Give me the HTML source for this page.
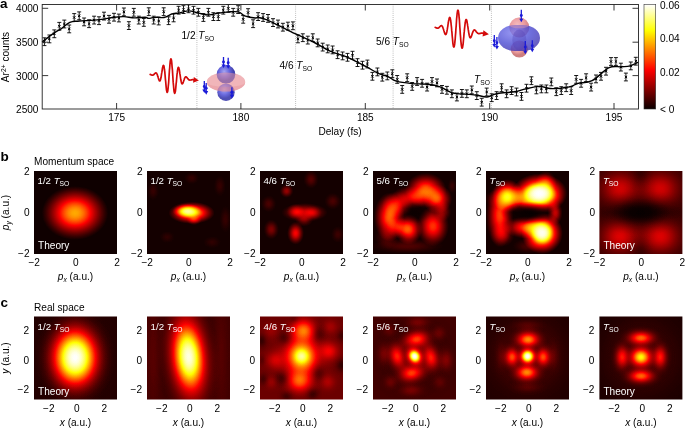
<!DOCTYPE html>
<html><head><meta charset="utf-8"><title>Figure</title>
<style>html,body{margin:0;padding:0;background:#fff}svg{display:block}text{font-family:"Liberation Sans",Arial,Helvetica,sans-serif;font-size:10.1px;fill:#000}.w{fill:#fff}.i{font-style:italic}.b{font-weight:bold;font-size:13.5px;fill:#000}.sub{font-size:6.7px}.in{font-size:9.7px}</style></head><body>
<svg width="685" height="428" viewBox="0 0 685 428">
<defs>
<filter id="hot" x="0" y="0" width="100%" height="100%" color-interpolation-filters="sRGB"><feComponentTransfer><feFuncR type="table" tableValues="0.03 0.36 0.68 1 1 1 1 1 1"/><feFuncG type="table" tableValues="0 0 0 0 0.333 0.667 1 1 1"/><feFuncB type="table" tableValues="0 0 0 0 0 0 0 0.5 1"/></feComponentTransfer></filter>
<radialGradient id="gp"><stop offset="0.00" stop-color="#fff" stop-opacity="1.000"/><stop offset="0.05" stop-color="#fff" stop-opacity="0.996"/><stop offset="0.10" stop-color="#fff" stop-opacity="0.983"/><stop offset="0.15" stop-color="#fff" stop-opacity="0.963"/><stop offset="0.20" stop-color="#fff" stop-opacity="0.935"/><stop offset="0.25" stop-color="#fff" stop-opacity="0.899"/><stop offset="0.30" stop-color="#fff" stop-opacity="0.857"/><stop offset="0.35" stop-color="#fff" stop-opacity="0.809"/><stop offset="0.40" stop-color="#fff" stop-opacity="0.756"/><stop offset="0.45" stop-color="#fff" stop-opacity="0.698"/><stop offset="0.50" stop-color="#fff" stop-opacity="0.637"/><stop offset="0.55" stop-color="#fff" stop-opacity="0.573"/><stop offset="0.60" stop-color="#fff" stop-opacity="0.507"/><stop offset="0.65" stop-color="#fff" stop-opacity="0.440"/><stop offset="0.70" stop-color="#fff" stop-opacity="0.373"/><stop offset="0.75" stop-color="#fff" stop-opacity="0.306"/><stop offset="0.80" stop-color="#fff" stop-opacity="0.240"/><stop offset="0.85" stop-color="#fff" stop-opacity="0.176"/><stop offset="0.90" stop-color="#fff" stop-opacity="0.115"/><stop offset="0.95" stop-color="#fff" stop-opacity="0.056"/><stop offset="1.00" stop-color="#fff" stop-opacity="0.000"/></radialGradient>
<radialGradient id="gq"><stop offset="0.00" stop-color="#fff" stop-opacity="1.000"/><stop offset="0.05" stop-color="#fff" stop-opacity="0.994"/><stop offset="0.10" stop-color="#fff" stop-opacity="0.977"/><stop offset="0.15" stop-color="#fff" stop-opacity="0.949"/><stop offset="0.20" stop-color="#fff" stop-opacity="0.911"/><stop offset="0.25" stop-color="#fff" stop-opacity="0.864"/><stop offset="0.30" stop-color="#fff" stop-opacity="0.809"/><stop offset="0.35" stop-color="#fff" stop-opacity="0.749"/><stop offset="0.40" stop-color="#fff" stop-opacity="0.683"/><stop offset="0.45" stop-color="#fff" stop-opacity="0.615"/><stop offset="0.50" stop-color="#fff" stop-opacity="0.545"/><stop offset="0.55" stop-color="#fff" stop-opacity="0.475"/><stop offset="0.60" stop-color="#fff" stop-opacity="0.406"/><stop offset="0.65" stop-color="#fff" stop-opacity="0.340"/><stop offset="0.70" stop-color="#fff" stop-opacity="0.278"/><stop offset="0.75" stop-color="#fff" stop-opacity="0.219"/><stop offset="0.80" stop-color="#fff" stop-opacity="0.165"/><stop offset="0.85" stop-color="#fff" stop-opacity="0.116"/><stop offset="0.90" stop-color="#fff" stop-opacity="0.072"/><stop offset="0.95" stop-color="#fff" stop-opacity="0.034"/><stop offset="1.00" stop-color="#fff" stop-opacity="0.000"/></radialGradient>
<radialGradient id="gqk"><stop offset="0.00" stop-color="#000" stop-opacity="1.000"/><stop offset="0.05" stop-color="#000" stop-opacity="0.994"/><stop offset="0.10" stop-color="#000" stop-opacity="0.977"/><stop offset="0.15" stop-color="#000" stop-opacity="0.949"/><stop offset="0.20" stop-color="#000" stop-opacity="0.911"/><stop offset="0.25" stop-color="#000" stop-opacity="0.864"/><stop offset="0.30" stop-color="#000" stop-opacity="0.809"/><stop offset="0.35" stop-color="#000" stop-opacity="0.749"/><stop offset="0.40" stop-color="#000" stop-opacity="0.683"/><stop offset="0.45" stop-color="#000" stop-opacity="0.615"/><stop offset="0.50" stop-color="#000" stop-opacity="0.545"/><stop offset="0.55" stop-color="#000" stop-opacity="0.475"/><stop offset="0.60" stop-color="#000" stop-opacity="0.406"/><stop offset="0.65" stop-color="#000" stop-opacity="0.340"/><stop offset="0.70" stop-color="#000" stop-opacity="0.278"/><stop offset="0.75" stop-color="#000" stop-opacity="0.219"/><stop offset="0.80" stop-color="#000" stop-opacity="0.165"/><stop offset="0.85" stop-color="#000" stop-opacity="0.116"/><stop offset="0.90" stop-color="#000" stop-opacity="0.072"/><stop offset="0.95" stop-color="#000" stop-opacity="0.034"/><stop offset="1.00" stop-color="#000" stop-opacity="0.000"/></radialGradient>
<radialGradient id="gw"><stop offset="0.00" stop-color="#fff" stop-opacity="1.000"/><stop offset="0.05" stop-color="#fff" stop-opacity="0.989"/><stop offset="0.10" stop-color="#fff" stop-opacity="0.956"/><stop offset="0.15" stop-color="#fff" stop-opacity="0.903"/><stop offset="0.20" stop-color="#fff" stop-opacity="0.833"/><stop offset="0.25" stop-color="#fff" stop-opacity="0.752"/><stop offset="0.30" stop-color="#fff" stop-opacity="0.663"/><stop offset="0.35" stop-color="#fff" stop-opacity="0.571"/><stop offset="0.40" stop-color="#fff" stop-opacity="0.481"/><stop offset="0.45" stop-color="#fff" stop-opacity="0.395"/><stop offset="0.50" stop-color="#fff" stop-opacity="0.317"/><stop offset="0.55" stop-color="#fff" stop-opacity="0.248"/><stop offset="0.60" stop-color="#fff" stop-opacity="0.189"/><stop offset="0.65" stop-color="#fff" stop-opacity="0.140"/><stop offset="0.70" stop-color="#fff" stop-opacity="0.100"/><stop offset="0.75" stop-color="#fff" stop-opacity="0.069"/><stop offset="0.80" stop-color="#fff" stop-opacity="0.046"/><stop offset="0.85" stop-color="#fff" stop-opacity="0.028"/><stop offset="0.90" stop-color="#fff" stop-opacity="0.015"/><stop offset="0.95" stop-color="#fff" stop-opacity="0.006"/><stop offset="1.00" stop-color="#fff" stop-opacity="0.000"/></radialGradient>
<radialGradient id="gk"><stop offset="0.00" stop-color="#000" stop-opacity="1.000"/><stop offset="0.05" stop-color="#000" stop-opacity="0.989"/><stop offset="0.10" stop-color="#000" stop-opacity="0.956"/><stop offset="0.15" stop-color="#000" stop-opacity="0.903"/><stop offset="0.20" stop-color="#000" stop-opacity="0.833"/><stop offset="0.25" stop-color="#000" stop-opacity="0.752"/><stop offset="0.30" stop-color="#000" stop-opacity="0.663"/><stop offset="0.35" stop-color="#000" stop-opacity="0.571"/><stop offset="0.40" stop-color="#000" stop-opacity="0.481"/><stop offset="0.45" stop-color="#000" stop-opacity="0.395"/><stop offset="0.50" stop-color="#000" stop-opacity="0.317"/><stop offset="0.55" stop-color="#000" stop-opacity="0.248"/><stop offset="0.60" stop-color="#000" stop-opacity="0.189"/><stop offset="0.65" stop-color="#000" stop-opacity="0.140"/><stop offset="0.70" stop-color="#000" stop-opacity="0.100"/><stop offset="0.75" stop-color="#000" stop-opacity="0.069"/><stop offset="0.80" stop-color="#000" stop-opacity="0.046"/><stop offset="0.85" stop-color="#000" stop-opacity="0.028"/><stop offset="0.90" stop-color="#000" stop-opacity="0.015"/><stop offset="0.95" stop-color="#000" stop-opacity="0.006"/><stop offset="1.00" stop-color="#000" stop-opacity="0.000"/></radialGradient>
<linearGradient id="cb" x1="0" y1="1" x2="0" y2="0"><stop offset="0" stop-color="#0a0000"/><stop offset="0.375" stop-color="#ff0000"/><stop offset="0.75" stop-color="#ffff00"/><stop offset="1" stop-color="#ffffff"/></linearGradient>
<radialGradient id="sb" cx="0.4" cy="0.35"><stop offset="0" stop-color="#9a9af0"/><stop offset="0.6" stop-color="#5050d8"/><stop offset="1" stop-color="#3030a8"/></radialGradient>
<radialGradient id="sp" cx="0.4" cy="0.35"><stop offset="0" stop-color="#f8c8c8"/><stop offset="0.7" stop-color="#e89090"/><stop offset="1" stop-color="#c87070"/></radialGradient>
<radialGradient id="tb" cx="0.35" cy="0.3" r="0.8"><stop offset="0" stop-color="#7c7cee"/><stop offset="0.55" stop-color="#4a4ad2"/><stop offset="1" stop-color="#4030a8"/></radialGradient>
</defs>
<g id="panelA">
<text class="b" x="0" y="7.5">a</text>
<line x1="196.9" y1="4.5" x2="196.9" y2="109.0" stroke="#666" stroke-width="0.6" stroke-dasharray="0.7 1.4"/>
<line x1="295.6" y1="4.5" x2="295.6" y2="109.0" stroke="#666" stroke-width="0.6" stroke-dasharray="0.7 1.4"/>
<line x1="393.1" y1="4.5" x2="393.1" y2="109.0" stroke="#666" stroke-width="0.6" stroke-dasharray="0.7 1.4"/>
<line x1="491.4" y1="4.5" x2="491.4" y2="109.0" stroke="#666" stroke-width="0.6" stroke-dasharray="0.7 1.4"/>
<path d="M44.4 37.8V45.6M42.4 37.8h4M42.4 45.6h4M49.4 35.0V42.8M47.4 35.0h4M47.4 42.8h4M54.3 29.9V37.7M52.3 29.9h4M52.3 37.7h4M59.3 22.4V30.2M57.3 22.4h4M57.3 30.2h4M64.3 20.1V27.9M62.3 20.1h4M62.3 27.9h4M69.2 25.0V32.8M67.2 25.0h4M67.2 32.8h4M74.2 13.6V21.4M72.2 13.6h4M72.2 21.4h4M79.2 11.9V19.7M77.2 11.9h4M77.2 19.7h4M84.1 18.0V25.8M82.1 18.0h4M82.1 25.8h4M89.1 19.8V27.6M87.1 19.8h4M87.1 27.6h4M94.1 16.2V24.0M92.1 16.2h4M92.1 24.0h4M99.0 16.8V24.6M97.0 16.8h4M97.0 24.6h4M104.0 12.2V20.0M102.0 12.2h4M102.0 20.0h4M109.0 15.4V23.2M107.0 15.4h4M107.0 23.2h4M114.0 13.3V21.1M112.0 13.3h4M112.0 21.1h4M118.9 14.1V21.9M116.9 14.1h4M116.9 21.9h4M123.9 8.0V15.8M121.9 8.0h4M121.9 15.8h4M128.9 21.7V29.5M126.9 21.7h4M126.9 29.5h4M133.8 8.4V16.2M131.8 8.4h4M131.8 16.2h4M138.8 16.2V24.0M136.8 16.2h4M136.8 24.0h4M143.8 18.5V26.3M141.8 18.5h4M141.8 26.3h4M148.8 7.8V15.6M146.8 7.8h4M146.8 15.6h4M153.7 16.2V24.0M151.7 16.2h4M151.7 24.0h4M158.7 17.1V24.9M156.7 17.1h4M156.7 24.9h4M163.7 7.8V15.6M161.7 7.8h4M161.7 15.6h4M168.6 16.8V24.6M166.6 16.8h4M166.6 24.6h4M173.6 14.0V21.8M171.6 14.0h4M171.6 21.8h4M178.6 6.3V14.1M176.6 6.3h4M176.6 14.1h4M183.5 5.7V13.5M181.5 5.7h4M181.5 13.5h4M188.5 4.9V12.7M186.5 4.9h4M186.5 12.7h4M193.5 6.3V14.1M191.5 6.3h4M191.5 14.1h4M198.4 8.4V16.2M196.4 8.4h4M196.4 16.2h4M203.4 13.6V21.4M201.4 13.6h4M201.4 21.4h4M208.4 8.4V16.2M206.4 8.4h4M206.4 16.2h4M213.4 12.7V20.5M211.4 12.7h4M211.4 20.5h4M218.3 12.7V20.5M216.3 12.7h4M216.3 20.5h4M223.3 6.3V14.1M221.3 6.3h4M221.3 14.1h4M228.3 4.5V12.3M226.3 4.5h4M226.3 12.3h4M233.2 8.4V16.2M231.2 8.4h4M231.2 16.2h4M238.2 5.7V13.5M236.2 5.7h4M236.2 13.5h4M243.2 15.4V23.2M241.2 15.4h4M241.2 23.2h4M248.1 8.7V16.5M246.1 8.7h4M246.1 16.5h4M253.1 19.8V27.6M251.1 19.8h4M251.1 27.6h4M258.1 12.7V20.5M256.1 12.7h4M256.1 20.5h4M263.1 13.6V21.4M261.1 13.6h4M261.1 21.4h4M268.0 14.5V22.3M266.0 14.5h4M266.0 22.3h4M273.0 18.7V26.5M271.0 18.7h4M271.0 26.5h4M278.0 20.1V27.9M276.0 20.1h4M276.0 27.9h4M282.9 23.3V31.1M280.9 23.3h4M280.9 31.1h4M287.9 22.2V30.0M285.9 22.2h4M285.9 30.0h4M292.9 21.9V29.7M290.9 21.9h4M290.9 29.7h4M297.9 35.0V42.8M295.9 35.0h4M295.9 42.8h4M302.8 33.8V41.6M300.8 33.8h4M300.8 41.6h4M307.8 36.2V44.0M305.8 36.2h4M305.8 44.0h4M312.8 33.8V41.6M310.8 33.8h4M310.8 41.6h4M317.7 39.0V46.8M315.7 39.0h4M315.7 46.8h4M322.7 43.2V51.0M320.7 43.2h4M320.7 51.0h4M327.7 45.0V52.8M325.7 45.0h4M325.7 52.8h4M332.6 46.0V53.8M330.6 46.0h4M330.6 53.8h4M337.6 50.8V58.6M335.6 50.8h4M335.6 58.6h4M342.6 52.0V59.8M340.6 52.0h4M340.6 59.8h4M347.5 53.4V61.2M345.5 53.4h4M345.5 61.2h4M352.5 51.3V59.1M350.5 51.3h4M350.5 59.1h4M357.5 58.7V66.5M355.5 58.7h4M355.5 66.5h4M362.5 61.3V69.1M360.5 61.3h4M360.5 69.1h4M367.4 60.1V67.9M365.4 60.1h4M365.4 67.9h4M372.4 72.4V80.2M370.4 72.4h4M370.4 80.2h4M377.4 68.0V75.8M375.4 68.0h4M375.4 75.8h4M382.3 73.3V81.1M380.3 73.3h4M380.3 81.1h4M387.3 72.0V79.8M385.3 72.0h4M385.3 79.8h4M392.3 69.8V77.6M390.3 69.8h4M390.3 77.6h4M397.2 75.5V83.3M395.2 75.5h4M395.2 83.3h4M402.2 85.5V93.3M400.2 85.5h4M400.2 93.3h4M407.2 73.8V81.6M405.2 73.8h4M405.2 81.6h4M412.2 82.5V90.3M410.2 82.5h4M410.2 90.3h4M417.1 77.6V85.4M415.1 77.6h4M415.1 85.4h4M422.1 79.4V87.2M420.1 79.4h4M420.1 87.2h4M427.1 83.2V91.0M425.1 83.2h4M425.1 91.0h4M432.0 77.6V85.4M430.0 77.6h4M430.0 85.4h4M437.0 79.0V86.8M435.0 79.0h4M435.0 86.8h4M442.0 85.5V93.3M440.0 85.5h4M440.0 93.3h4M446.9 86.4V94.2M444.9 86.4h4M444.9 94.2h4M451.9 89.9V97.7M449.9 89.9h4M449.9 97.7h4M456.9 93.1V100.9M454.9 93.1h4M454.9 100.9h4M461.9 89.5V97.3M459.9 89.5h4M459.9 97.3h4M466.8 89.9V97.7M464.8 89.9h4M464.8 97.7h4M471.8 86.0V93.8M469.8 86.0h4M469.8 93.8h4M476.8 91.7V99.5M474.8 91.7h4M474.8 99.5h4M481.7 98.3V106.1M479.7 98.3h4M479.7 106.1h4M486.7 88.1V95.9M484.7 88.1h4M484.7 95.9h4M491.7 93.8V101.6M489.7 93.8h4M489.7 101.6h4M496.6 91.7V99.5M494.6 91.7h4M494.6 99.5h4M501.6 83.8V91.6M499.6 83.8h4M499.6 91.6h4M506.6 89.9V97.7M504.6 89.9h4M504.6 97.7h4M511.6 86.7V94.5M509.6 86.7h4M509.6 94.5h4M516.5 88.1V95.9M514.5 88.1h4M514.5 95.9h4M521.5 92.5V100.3M519.5 92.5h4M519.5 100.3h4M526.5 84.3V92.1M524.5 84.3h4M524.5 92.1h4M531.4 76.8V84.6M529.4 76.8h4M529.4 84.6h4M536.4 86.0V93.8M534.4 86.0h4M534.4 93.8h4M541.4 85.0V92.8M539.4 85.0h4M539.4 92.8h4M546.4 85.0V92.8M544.4 85.0h4M544.4 92.8h4M551.3 78.0V85.8M549.3 78.0h4M549.3 85.8h4M556.3 87.8V95.6M554.3 87.8h4M554.3 95.6h4M561.3 86.7V94.5M559.3 86.7h4M559.3 94.5h4M566.2 83.8V91.6M564.2 83.8h4M564.2 91.6h4M571.2 86.7V94.5M569.2 86.7h4M569.2 94.5h4M576.2 75.5V83.3M574.2 75.5h4M574.2 83.3h4M581.1 79.4V87.2M579.1 79.4h4M579.1 87.2h4M586.1 73.8V81.6M584.1 73.8h4M584.1 81.6h4M591.1 83.2V91.0M589.1 83.2h4M589.1 91.0h4M596.0 75.0V82.8M594.0 75.0h4M594.0 82.8h4M601.0 72.4V80.2M599.0 72.4h4M599.0 80.2h4M606.0 67.3V75.1M604.0 67.3h4M604.0 75.1h4M611.0 57.6V65.4M609.0 57.6h4M609.0 65.4h4M615.9 57.6V65.4M613.9 57.6h4M613.9 65.4h4M620.9 63.2V71.0M618.9 63.2h4M618.9 71.0h4M625.9 73.1V80.9M623.9 73.1h4M623.9 80.9h4M630.8 62.0V69.8M628.8 62.0h4M628.8 69.8h4M635.8 57.3V65.1M633.8 57.3h4M633.8 65.1h4" stroke="#000" stroke-width="0.9" fill="none"/>
<path d="M43.2 40.5l2.4 2.4M43.2 42.9l2.4 -2.4M48.1 37.7l2.4 2.4M48.1 40.1l2.4 -2.4M53.1 32.6l2.4 2.4M53.1 35.0l2.4 -2.4M58.1 25.1l2.4 2.4M58.1 27.5l2.4 -2.4M63.1 22.8l2.4 2.4M63.1 25.2l2.4 -2.4M68.0 27.7l2.4 2.4M68.0 30.1l2.4 -2.4M73.0 16.3l2.4 2.4M73.0 18.7l2.4 -2.4M78.0 14.6l2.4 2.4M78.0 17.0l2.4 -2.4M82.9 20.7l2.4 2.4M82.9 23.1l2.4 -2.4M87.9 22.5l2.4 2.4M87.9 24.9l2.4 -2.4M92.9 18.9l2.4 2.4M92.9 21.3l2.4 -2.4M97.8 19.5l2.4 2.4M97.8 21.9l2.4 -2.4M102.8 14.9l2.4 2.4M102.8 17.3l2.4 -2.4M107.8 18.1l2.4 2.4M107.8 20.5l2.4 -2.4M112.8 16.0l2.4 2.4M112.8 18.4l2.4 -2.4M117.7 16.8l2.4 2.4M117.7 19.2l2.4 -2.4M122.7 10.7l2.4 2.4M122.7 13.1l2.4 -2.4M127.7 24.4l2.4 2.4M127.7 26.8l2.4 -2.4M132.6 11.1l2.4 2.4M132.6 13.5l2.4 -2.4M137.6 18.9l2.4 2.4M137.6 21.3l2.4 -2.4M142.6 21.2l2.4 2.4M142.6 23.6l2.4 -2.4M147.6 10.5l2.4 2.4M147.6 12.9l2.4 -2.4M152.5 18.9l2.4 2.4M152.5 21.3l2.4 -2.4M157.5 19.8l2.4 2.4M157.5 22.2l2.4 -2.4M162.5 10.5l2.4 2.4M162.5 12.9l2.4 -2.4M167.4 19.5l2.4 2.4M167.4 21.9l2.4 -2.4M172.4 16.7l2.4 2.4M172.4 19.1l2.4 -2.4M177.4 9.0l2.4 2.4M177.4 11.4l2.4 -2.4M182.3 8.4l2.4 2.4M182.3 10.8l2.4 -2.4M187.3 7.6l2.4 2.4M187.3 10.0l2.4 -2.4M192.3 9.0l2.4 2.4M192.3 11.4l2.4 -2.4M197.2 11.1l2.4 2.4M197.2 13.5l2.4 -2.4M202.2 16.3l2.4 2.4M202.2 18.7l2.4 -2.4M207.2 11.1l2.4 2.4M207.2 13.5l2.4 -2.4M212.2 15.4l2.4 2.4M212.2 17.8l2.4 -2.4M217.1 15.4l2.4 2.4M217.1 17.8l2.4 -2.4M222.1 9.0l2.4 2.4M222.1 11.4l2.4 -2.4M227.1 7.2l2.4 2.4M227.1 9.6l2.4 -2.4M232.0 11.1l2.4 2.4M232.0 13.5l2.4 -2.4M237.0 8.4l2.4 2.4M237.0 10.8l2.4 -2.4M242.0 18.1l2.4 2.4M242.0 20.5l2.4 -2.4M246.9 11.4l2.4 2.4M246.9 13.8l2.4 -2.4M251.9 22.5l2.4 2.4M251.9 24.9l2.4 -2.4M256.9 15.4l2.4 2.4M256.9 17.8l2.4 -2.4M261.9 16.3l2.4 2.4M261.9 18.7l2.4 -2.4M266.8 17.2l2.4 2.4M266.8 19.6l2.4 -2.4M271.8 21.4l2.4 2.4M271.8 23.8l2.4 -2.4M276.8 22.8l2.4 2.4M276.8 25.2l2.4 -2.4M281.7 26.0l2.4 2.4M281.7 28.4l2.4 -2.4M286.7 24.9l2.4 2.4M286.7 27.3l2.4 -2.4M291.7 24.6l2.4 2.4M291.7 27.0l2.4 -2.4M296.7 37.7l2.4 2.4M296.7 40.1l2.4 -2.4M301.6 36.5l2.4 2.4M301.6 38.9l2.4 -2.4M306.6 38.9l2.4 2.4M306.6 41.3l2.4 -2.4M311.6 36.5l2.4 2.4M311.6 38.9l2.4 -2.4M316.5 41.7l2.4 2.4M316.5 44.1l2.4 -2.4M321.5 45.9l2.4 2.4M321.5 48.3l2.4 -2.4M326.5 47.7l2.4 2.4M326.5 50.1l2.4 -2.4M331.4 48.7l2.4 2.4M331.4 51.1l2.4 -2.4M336.4 53.5l2.4 2.4M336.4 55.9l2.4 -2.4M341.4 54.7l2.4 2.4M341.4 57.1l2.4 -2.4M346.3 56.1l2.4 2.4M346.3 58.5l2.4 -2.4M351.3 54.0l2.4 2.4M351.3 56.4l2.4 -2.4M356.3 61.4l2.4 2.4M356.3 63.8l2.4 -2.4M361.3 64.0l2.4 2.4M361.3 66.4l2.4 -2.4M366.2 62.8l2.4 2.4M366.2 65.2l2.4 -2.4M371.2 75.1l2.4 2.4M371.2 77.5l2.4 -2.4M376.2 70.7l2.4 2.4M376.2 73.1l2.4 -2.4M381.1 76.0l2.4 2.4M381.1 78.4l2.4 -2.4M386.1 74.7l2.4 2.4M386.1 77.1l2.4 -2.4M391.1 72.5l2.4 2.4M391.1 74.9l2.4 -2.4M396.1 78.2l2.4 2.4M396.1 80.6l2.4 -2.4M401.0 88.2l2.4 2.4M401.0 90.6l2.4 -2.4M406.0 76.5l2.4 2.4M406.0 78.9l2.4 -2.4M411.0 85.2l2.4 2.4M411.0 87.6l2.4 -2.4M415.9 80.3l2.4 2.4M415.9 82.7l2.4 -2.4M420.9 82.1l2.4 2.4M420.9 84.5l2.4 -2.4M425.9 85.9l2.4 2.4M425.9 88.3l2.4 -2.4M430.8 80.3l2.4 2.4M430.8 82.7l2.4 -2.4M435.8 81.7l2.4 2.4M435.8 84.1l2.4 -2.4M440.8 88.2l2.4 2.4M440.8 90.6l2.4 -2.4M445.8 89.1l2.4 2.4M445.8 91.5l2.4 -2.4M450.7 92.6l2.4 2.4M450.7 95.0l2.4 -2.4M455.7 95.8l2.4 2.4M455.7 98.2l2.4 -2.4M460.7 92.2l2.4 2.4M460.7 94.6l2.4 -2.4M465.6 92.6l2.4 2.4M465.6 95.0l2.4 -2.4M470.6 88.7l2.4 2.4M470.6 91.1l2.4 -2.4M475.6 94.4l2.4 2.4M475.6 96.8l2.4 -2.4M480.5 101.0l2.4 2.4M480.5 103.4l2.4 -2.4M485.5 90.8l2.4 2.4M485.5 93.2l2.4 -2.4M490.5 96.5l2.4 2.4M490.5 98.9l2.4 -2.4M495.4 94.4l2.4 2.4M495.4 96.8l2.4 -2.4M500.4 86.5l2.4 2.4M500.4 88.9l2.4 -2.4M505.4 92.6l2.4 2.4M505.4 95.0l2.4 -2.4M510.4 89.4l2.4 2.4M510.4 91.8l2.4 -2.4M515.3 90.8l2.4 2.4M515.3 93.2l2.4 -2.4M520.3 95.2l2.4 2.4M520.3 97.6l2.4 -2.4M525.3 87.0l2.4 2.4M525.3 89.4l2.4 -2.4M530.2 79.5l2.4 2.4M530.2 81.9l2.4 -2.4M535.2 88.7l2.4 2.4M535.2 91.1l2.4 -2.4M540.2 87.7l2.4 2.4M540.2 90.1l2.4 -2.4M545.1 87.7l2.4 2.4M545.1 90.1l2.4 -2.4M550.1 80.7l2.4 2.4M550.1 83.1l2.4 -2.4M555.1 90.5l2.4 2.4M555.1 92.9l2.4 -2.4M560.1 89.4l2.4 2.4M560.1 91.8l2.4 -2.4M565.0 86.5l2.4 2.4M565.0 88.9l2.4 -2.4M570.0 89.4l2.4 2.4M570.0 91.8l2.4 -2.4M575.0 78.2l2.4 2.4M575.0 80.6l2.4 -2.4M579.9 82.1l2.4 2.4M579.9 84.5l2.4 -2.4M584.9 76.5l2.4 2.4M584.9 78.9l2.4 -2.4M589.9 85.9l2.4 2.4M589.9 88.3l2.4 -2.4M594.8 77.7l2.4 2.4M594.8 80.1l2.4 -2.4M599.8 75.1l2.4 2.4M599.8 77.5l2.4 -2.4M604.8 70.0l2.4 2.4M604.8 72.4l2.4 -2.4M609.8 60.3l2.4 2.4M609.8 62.7l2.4 -2.4M614.7 60.3l2.4 2.4M614.7 62.7l2.4 -2.4M619.7 65.9l2.4 2.4M619.7 68.3l2.4 -2.4M624.7 75.8l2.4 2.4M624.7 78.2l2.4 -2.4M629.6 64.7l2.4 2.4M629.6 67.1l2.4 -2.4M634.6 60.0l2.4 2.4M634.6 62.4l2.4 -2.4" stroke="#000" stroke-width="1.0" fill="none"/>
<path d="M42.1 42.0C44.2 40.4 51.7 34.6 54.9 32.4C58.0 30.2 58.5 30.6 61.0 28.9C63.5 27.2 66.7 23.7 69.8 22.4C72.8 21.1 74.5 21.5 79.4 21.0C84.4 20.6 93.7 20.3 99.6 19.6C105.4 19.0 110.4 17.7 114.5 17.2C118.5 16.7 120.7 16.5 124.1 16.6C127.5 16.8 131.1 17.8 134.6 17.9C138.1 18.0 142.8 17.1 145.1 17.2C147.5 17.3 146.9 18.4 148.6 18.4C150.4 18.4 153.1 17.3 155.6 17.2C158.2 17.0 161.2 18.1 164.0 17.5C166.9 16.9 170.3 14.4 172.8 13.7C175.3 12.9 176.2 13.6 178.9 13.1C181.6 12.7 185.4 10.9 188.7 10.9C192.0 10.9 195.4 12.5 198.7 13.1C202.0 13.8 205.4 14.9 208.7 14.9C212.0 14.9 215.2 13.6 218.5 13.1C221.8 12.6 225.2 12.1 228.5 11.9C231.8 11.7 235.8 11.3 238.5 11.9C241.2 12.6 241.8 14.7 244.6 15.8C247.4 16.8 252.8 17.8 255.1 18.0C257.5 18.3 256.9 17.3 258.6 17.5C260.4 17.7 262.5 18.0 265.6 19.3C268.8 20.5 272.6 22.5 277.5 24.9C282.4 27.3 289.2 30.9 295.0 33.7C300.9 36.4 306.7 38.6 312.6 41.5C318.4 44.5 324.2 48.5 330.1 51.2C335.9 53.8 341.8 54.8 347.6 57.3C353.4 59.8 359.9 63.3 365.1 66.1C370.3 68.8 375.0 71.9 378.8 73.7C382.5 75.4 384.6 75.0 387.5 76.3C390.4 77.5 392.2 80.0 396.3 81.2C400.4 82.4 406.8 83.1 412.0 83.6C417.3 84.1 423.1 83.6 427.8 84.2C432.5 84.7 436.0 85.3 440.1 86.8C444.2 88.3 448.0 91.7 452.3 92.9C456.7 94.1 462.3 93.8 466.4 94.1C470.4 94.5 473.4 94.7 476.9 95.2C480.3 95.7 483.6 97.2 487.0 97.0C490.4 96.7 492.8 94.3 497.5 93.4C502.2 92.6 510.4 92.5 515.0 91.7C519.7 90.9 521.5 89.8 525.6 88.9C529.6 88.0 535.5 86.5 539.6 86.4C543.7 86.4 546.6 88.3 550.1 88.5C553.6 88.8 557.1 88.5 560.6 88.2C564.1 87.8 568.2 87.3 571.1 86.4C574.0 85.6 574.6 84.3 578.1 83.3C581.6 82.3 587.0 83.3 592.1 80.7C597.3 78.1 604.2 70.0 609.1 67.7C613.9 65.4 617.8 67.1 621.3 66.8C624.8 66.5 627.3 66.6 630.1 65.9C632.9 65.2 636.6 63.0 638.0 62.4" stroke="#000" stroke-width="1.4" fill="none" stroke-linejoin="round"/>
<rect x="42.2" y="4.5" width="596.3" height="104.5" fill="none" stroke="#222" stroke-width="0.9"/>
<path d="M116.6 109.0v-6M116.6 4.5v6M240.9 109.0v-6M240.9 4.5v6M365.3 109.0v-6M365.3 4.5v6M489.7 109.0v-6M489.7 4.5v6M614.0 109.0v-6M614.0 4.5v6M42.2 8.3h6M638.5 8.3h-6M42.2 42.2h6M638.5 42.2h-6M42.2 75.6h6M638.5 75.6h-6" stroke="#222" stroke-width="0.9" fill="none"/>
<text x="116.6" y="120.5" text-anchor="middle">175</text>
<text x="240.9" y="120.5" text-anchor="middle">180</text>
<text x="365.3" y="120.5" text-anchor="middle">185</text>
<text x="489.7" y="120.5" text-anchor="middle">190</text>
<text x="614.0" y="120.5" text-anchor="middle">195</text>
<text x="38.5" y="12.3" text-anchor="end">4000</text>
<text x="38.5" y="46.2" text-anchor="end">3500</text>
<text x="38.5" y="79.6" text-anchor="end">3000</text>
<text x="38.5" y="113.0" text-anchor="end">2500</text>
<text x="340" y="135" text-anchor="middle">Delay (fs)</text>
<text transform="translate(9.3,57) rotate(-90)" text-anchor="middle">Ar<tspan class="sub" dy="-3.5">2+</tspan><tspan dy="3.5"> counts</tspan></text>
<text x="181.5" y="38.6">1/2 <tspan font-style="italic">T</tspan><tspan class="sub" dy="2">SO</tspan></text>
<text x="279.5" y="69.0">4/6 <tspan font-style="italic">T</tspan><tspan class="sub" dy="2">SO</tspan></text>
<text x="376.0" y="44.5">5/6 <tspan font-style="italic">T</tspan><tspan class="sub" dy="2">SO</tspan></text>
<text x="474.0" y="83.0"><tspan font-style="italic">T</tspan><tspan class="sub" dy="2">SO</tspan></text>
<rect x="644" y="4.5" width="11.7" height="104.5" fill="url(#cb)" stroke="#333" stroke-width="0.6"/>
<text x="660" y="8.5">0.06</text>
<text x="660" y="41.8">0.04</text>
<text x="660" y="75.7">0.02</text>
<text x="660" y="113.1">&lt; 0</text>
<path d="M150.2 74.4L150.5 74.5L150.7 74.6L150.9 74.7L151.1 74.9L151.4 75.0L151.6 75.0L151.8 75.1L152.0 75.2L152.3 75.2L152.5 75.2L152.7 75.2L152.9 75.1L153.2 75.0L153.4 74.9L153.6 74.8L153.8 74.6L154.0 74.4L154.3 74.1L154.5 73.9L154.7 73.6L154.9 73.4L155.2 73.2L155.4 73.0L155.6 72.9L155.8 72.9L156.1 72.9L156.3 73.0L156.5 73.2L156.7 73.5L156.9 73.9L157.2 74.4L157.4 75.0L157.6 75.7L157.8 76.4L158.1 77.1L158.3 77.9L158.5 78.6L158.7 79.3L159.0 79.9L159.2 80.4L159.4 80.8L159.6 81.0L159.8 81.0L160.1 80.8L160.3 80.3L160.5 79.7L160.7 78.8L161.0 77.8L161.2 76.6L161.4 75.2L161.6 73.7L161.9 72.2L162.1 70.7L162.3 69.3L162.5 68.0L162.8 66.9L163.0 66.1L163.2 65.5L163.4 65.3L163.6 65.5L163.9 66.0L164.1 67.0L164.3 68.3L164.5 70.0L164.8 71.9L165.0 74.2L165.2 76.6L165.4 79.1L165.7 81.6L165.9 84.1L166.1 86.4L166.3 88.4L166.5 90.1L166.8 91.4L167.0 92.2L167.2 92.4L167.4 92.1L167.7 91.3L167.9 89.9L168.1 88.1L168.3 85.8L168.6 83.1L168.8 80.2L169.0 77.0L169.2 73.9L169.4 70.7L169.7 67.8L169.9 65.1L170.1 62.8L170.3 60.9L170.6 59.6L170.8 58.9L171.0 58.8L171.2 59.3L171.5 60.4L171.7 62.1L171.9 64.3L172.1 66.9L172.4 69.8L172.6 72.9L172.8 76.1L173.0 79.3L173.2 82.4L173.5 85.3L173.7 87.8L173.9 90.0L174.1 91.6L174.4 92.7L174.6 93.3L174.8 93.3L175.0 92.8L175.3 91.8L175.5 90.4L175.7 88.6L175.9 86.4L176.1 84.1L176.4 81.6L176.6 79.2L176.8 76.8L177.0 74.5L177.3 72.4L177.5 70.7L177.7 69.3L177.9 68.2L178.2 67.6L178.4 67.3L178.6 67.4L178.8 67.8L179.0 68.6L179.3 69.7L179.5 70.9L179.7 72.4L179.9 73.9L180.2 75.5L180.4 77.0L180.6 78.5L180.8 79.8L181.1 81.0L181.3 82.0L181.5 82.8L181.7 83.4L182.0 83.8L182.2 83.9L182.4 83.9L182.6 83.6L182.8 83.2L183.1 82.7L183.3 82.1L183.5 81.5L183.7 80.8L184.0 80.1L184.2 79.4L184.4 78.8L184.6 78.2L184.9 77.7L185.1 77.4L185.3 77.1L185.5 76.9L185.7 76.8L186.0 76.8L186.2 76.8L186.4 77.0L186.6 77.2L186.9 77.4L187.1 77.7L187.3 78.0L187.5 78.3L187.8 78.6L188.0 78.9L188.2 79.1L188.4 79.4L188.6 79.6L188.9 79.7L189.1 79.9L189.3 80.0L189.5 80.0L189.8 80.1L190.0 80.1L190.2 80.1L190.4 80.0L190.7 80.0L190.9 80.0L191.1 79.9L191.3 79.9L191.6 79.8L191.8 79.8L192.0 79.7L192.2 79.7L192.4 79.7L192.7 79.7L192.9 79.7L193.1 79.7L193.3 79.7L193.6 79.8L193.8 79.8L194.0 79.8L194.2 79.9L194.5 79.9L194.7 80.0L194.9 80.0" stroke="#d40a0a" stroke-width="1.7" fill="none" stroke-linejoin="round" stroke-linecap="round"/><path d="M193.8 77.0L198.9 80.6L193.0 82.8Z" fill="#d40a0a"/>
<path d="M435.2 27.3L435.4 27.5L435.7 27.6L435.9 27.7L436.2 27.8L436.4 27.9L436.7 28.0L436.9 28.1L437.2 28.2L437.4 28.2L437.7 28.2L437.9 28.2L438.2 28.1L438.4 28.0L438.7 27.9L438.9 27.7L439.1 27.5L439.4 27.2L439.6 27.0L439.9 26.7L440.1 26.5L440.4 26.2L440.6 26.0L440.9 25.8L441.1 25.7L441.4 25.6L441.6 25.7L441.9 25.8L442.1 26.1L442.3 26.4L442.6 26.9L442.8 27.4L443.1 28.1L443.3 28.8L443.6 29.6L443.8 30.4L444.1 31.3L444.3 32.1L444.6 32.8L444.8 33.5L445.1 34.0L445.3 34.4L445.6 34.6L445.8 34.5L446.0 34.3L446.3 33.8L446.5 33.0L446.8 32.0L447.0 30.8L447.3 29.4L447.5 27.9L447.8 26.3L448.0 24.6L448.3 23.0L448.5 21.4L448.8 20.0L449.0 18.9L449.3 18.0L449.5 17.5L449.7 17.4L450.0 17.6L450.2 18.3L450.5 19.5L450.7 21.0L451.0 22.9L451.2 25.2L451.5 27.7L451.7 30.4L452.0 33.2L452.2 36.0L452.5 38.7L452.7 41.1L452.9 43.3L453.2 45.0L453.4 46.3L453.7 47.0L453.9 47.1L454.2 46.6L454.4 45.6L454.7 43.9L454.9 41.7L455.2 39.0L455.4 35.9L455.7 32.6L455.9 29.1L456.2 25.6L456.4 22.2L456.6 19.0L456.9 16.2L457.1 13.8L457.4 12.0L457.6 10.7L457.9 10.2L458.1 10.3L458.4 11.1L458.6 12.6L458.9 14.6L459.1 17.2L459.4 20.2L459.6 23.5L459.8 27.0L460.1 30.6L460.3 34.1L460.6 37.4L460.8 40.5L461.1 43.1L461.3 45.2L461.6 46.8L461.8 47.8L462.1 48.2L462.3 48.0L462.6 47.2L462.8 45.9L463.1 44.1L463.3 41.9L463.5 39.5L463.8 36.8L464.0 34.1L464.3 31.4L464.5 28.8L464.8 26.4L465.0 24.3L465.3 22.5L465.5 21.1L465.8 20.1L466.0 19.6L466.3 19.5L466.5 19.8L466.8 20.5L467.0 21.5L467.2 22.8L467.5 24.3L467.7 25.9L468.0 27.6L468.2 29.4L468.5 31.0L468.7 32.6L469.0 34.0L469.2 35.2L469.5 36.2L469.7 37.0L470.0 37.5L470.2 37.8L470.4 37.8L470.7 37.6L470.9 37.3L471.2 36.8L471.4 36.2L471.7 35.4L471.9 34.7L472.2 33.9L472.4 33.2L472.7 32.4L472.9 31.8L473.2 31.2L473.4 30.8L473.7 30.4L473.9 30.1L474.1 30.0L474.4 29.9L474.6 30.0L474.9 30.1L475.1 30.3L475.4 30.6L475.6 30.9L475.9 31.2L476.1 31.5L476.4 31.9L476.6 32.2L476.9 32.5L477.1 32.7L477.4 33.0L477.6 33.2L477.8 33.3L478.1 33.4L478.3 33.5L478.6 33.6L478.8 33.6L479.1 33.6L479.3 33.6L479.6 33.5L479.8 33.5L480.1 33.4L480.3 33.4L480.6 33.3L480.8 33.3L481.0 33.2L481.3 33.2L481.5 33.2L481.8 33.2L482.0 33.2L482.3 33.2L482.5 33.2L482.8 33.2L483.0 33.3L483.3 33.3L483.5 33.4L483.8 33.4L484.0 33.5L484.3 33.5L484.5 33.6" stroke="#d40a0a" stroke-width="1.7" fill="none" stroke-linejoin="round" stroke-linecap="round"/><path d="M483.4 30.2L488.9 34.2L482.6 36.6Z" fill="#d40a0a"/>
<g>
<ellipse cx="226" cy="82" rx="19.2" ry="9.6" fill="#e8a0a0" opacity="0.55"/>
<circle cx="226" cy="92.2" r="8.7" fill="url(#sb)" opacity="0.85"/>
<circle cx="226" cy="74.3" r="9.3" fill="url(#sb)" opacity="0.9"/>
<ellipse cx="226" cy="82" rx="19.2" ry="9.6" fill="#f0a0a8" opacity="0.5"/>
<path d="M206.8 82a19.2 9.6 0 0 0 38.4 0a19.2 5 0 0 1 -38.4 0z" fill="#e08890" opacity="0.3"/>
<path d="M223.5 57.0V65.0" stroke="#1a1ad8" stroke-width="1.3"/><path d="M223.5 68.0l2 -3.6h-4z" fill="#1a1ad8"/><circle cx="223.5" cy="62.0" r="1.45" fill="#1a1ad8"/><path d="M228.2 57.8V65.8" stroke="#1a1ad8" stroke-width="1.3"/><path d="M228.2 68.8l2 -3.6h-4z" fill="#1a1ad8"/><circle cx="228.2" cy="62.8" r="1.45" fill="#1a1ad8"/><path d="M204.3 81.0V90.0" stroke="#1a1ad8" stroke-width="1.3"/><path d="M204.3 93.0l2 -3.6h-4z" fill="#1a1ad8"/><circle cx="204.3" cy="86.5" r="1.45" fill="#1a1ad8"/><path d="M206.2 83.0V91.7" stroke="#1a1ad8" stroke-width="1.3"/><path d="M206.2 94.7l2 -3.6h-4z" fill="#1a1ad8"/><circle cx="206.2" cy="88.3" r="1.45" fill="#1a1ad8"/><path d="M231.9 87.3V95.4" stroke="#1a1ad8" stroke-width="1.3"/><path d="M231.9 98.4l2 -3.6h-4z" fill="#1a1ad8"/><circle cx="231.9" cy="92.3" r="1.45" fill="#1a1ad8"/>
</g>
<g>
<circle cx="519.3" cy="27.5" r="10" fill="url(#sp)" opacity="0.9"/>
<circle cx="519.3" cy="49" r="8.6" fill="url(#sp)" opacity="0.9"/>
<rect x="498" y="25" width="42" height="26" rx="17" ry="13" fill="url(#tb)" opacity="0.8"/>
<ellipse cx="519.3" cy="40" rx="7" ry="10.5" fill="#4a38b0" opacity="0.3"/>
<path d="M509.5 25.5a10 10 0 0 1 19.6 0a10 3.5 0 0 1 -19.6 0z" fill="#f0a0a8" opacity="0.4"/>
<path d="M521.3 9.7V19.3" stroke="#1a1ad8" stroke-width="1.3"/><path d="M521.3 22.3l2 -3.6h-4z" fill="#1a1ad8"/><circle cx="521.3" cy="15.5" r="1.45" fill="#1a1ad8"/><path d="M494.3 35.0V44.5" stroke="#1a1ad8" stroke-width="1.3"/><path d="M494.3 47.5l2 -3.6h-4z" fill="#1a1ad8"/><circle cx="494.3" cy="40.8" r="1.45" fill="#1a1ad8"/><path d="M496.9 37.0V46.6" stroke="#1a1ad8" stroke-width="1.3"/><path d="M496.9 49.6l2 -3.6h-4z" fill="#1a1ad8"/><circle cx="496.9" cy="42.8" r="1.45" fill="#1a1ad8"/><path d="M525.3 41.0V51.3" stroke="#1a1ad8" stroke-width="1.3"/><path d="M525.3 54.3l2 -3.6h-4z" fill="#1a1ad8"/><circle cx="525.3" cy="47.1" r="1.45" fill="#1a1ad8"/><path d="M532.3 40.3V49.3" stroke="#1a1ad8" stroke-width="1.3"/><path d="M532.3 52.3l2 -3.6h-4z" fill="#1a1ad8"/><circle cx="532.3" cy="45.8" r="1.45" fill="#1a1ad8"/>
</g>
</g>
<g id="panelB">
<text class="b" x="0.5" y="161">b</text>
<text x="34" y="164.5">Momentum space</text>
<g transform="translate(34.0,171.0)"><svg x="0" y="0" width="83" height="83" viewBox="0 0 83 83" overflow="hidden"><g filter="url(#hot)"><rect x="-10" y="-10" width="103" height="103" fill="rgb(3,3,3)"/><ellipse cx="41.0" cy="42.0" rx="33.3" ry="26.9" fill="url(#gq)" opacity="0.62"/></g></svg></g>
<text x="37.5" y="184.2" class="w in">1/2 <tspan font-style="italic">T</tspan><tspan class="sub" dy="2">SO</tspan></text>
<text x="29.6" y="174.6" text-anchor="end">2</text>
<text x="29.6" y="216.3" text-anchor="end">0</text>
<text x="29.6" y="257.2" text-anchor="end">−2</text>
<text x="34.2" y="265.7" text-anchor="middle">−2</text>
<text x="75.9" y="265.7" text-anchor="middle">0</text>
<text x="117.0" y="265.7" text-anchor="middle">2</text>
<text x="75.5" y="279.5" text-anchor="middle"><tspan font-style="italic">p</tspan><tspan class="sub" font-style="italic" dy="2">x</tspan><tspan dy="-2"> (a.u.)</tspan></text>
<g transform="translate(147.0,171.0)"><svg x="0" y="0" width="83" height="83" viewBox="0 0 83 83" overflow="hidden"><g filter="url(#hot)"><rect x="-10" y="-10" width="103" height="103" fill="rgb(5,5,5)"/><ellipse cx="44.6" cy="7.2" rx="7.7" ry="6.1" fill="url(#gq)" opacity="0.05"/><ellipse cx="6.1" cy="20.0" rx="6.1" ry="9.2" fill="url(#gq)" opacity="0.05"/><ellipse cx="72.8" cy="14.9" rx="6.1" ry="10.8" fill="url(#gq)" opacity="0.05"/><ellipse cx="78.4" cy="48.2" rx="6.1" ry="13.8" fill="url(#gq)" opacity="0.05"/><ellipse cx="20.2" cy="66.1" rx="7.7" ry="6.1" fill="url(#gq)" opacity="0.04"/><ellipse cx="65.1" cy="71.2" rx="9.2" ry="6.1" fill="url(#gq)" opacity="0.04"/><ellipse cx="44.6" cy="41.8" rx="23.1" ry="11.1" fill="url(#gq)" opacity="0.70"/><ellipse cx="40.0" cy="40.0" rx="14.6" ry="7.4" fill="url(#gq)" opacity="0.75"/><ellipse cx="47.1" cy="48.7" rx="7.7" ry="5.5" fill="url(#gq)" opacity="0.25"/></g></svg></g>
<text x="150.5" y="184.2" class="w in">1/2 <tspan font-style="italic">T</tspan><tspan class="sub" dy="2">SO</tspan></text>
<text x="142.6" y="174.6" text-anchor="end">2</text>
<text x="142.6" y="216.3" text-anchor="end">0</text>
<text x="142.6" y="257.2" text-anchor="end">−2</text>
<text x="147.2" y="265.7" text-anchor="middle">−2</text>
<text x="188.9" y="265.7" text-anchor="middle">0</text>
<text x="230.0" y="265.7" text-anchor="middle">2</text>
<text x="188.5" y="279.5" text-anchor="middle"><tspan font-style="italic">p</tspan><tspan class="sub" font-style="italic" dy="2">x</tspan><tspan dy="-2"> (a.u.)</tspan></text>
<g transform="translate(260.0,171.0)"><svg x="0" y="0" width="83" height="83" viewBox="0 0 83 83" overflow="hidden"><g filter="url(#hot)"><rect x="-10" y="-10" width="103" height="103" fill="rgb(5,5,5)"/><ellipse cx="51.0" cy="8.5" rx="7.7" ry="9.2" fill="url(#gq)" opacity="0.10"/><ellipse cx="8.7" cy="32.8" rx="7.7" ry="8.5" fill="url(#gq)" opacity="0.08"/><ellipse cx="72.8" cy="30.2" rx="8.5" ry="8.5" fill="url(#gq)" opacity="0.08"/><ellipse cx="77.9" cy="63.5" rx="6.9" ry="8.5" fill="url(#gq)" opacity="0.06"/><ellipse cx="11.3" cy="58.4" rx="7.7" ry="10.0" fill="url(#gq)" opacity="0.16"/><ellipse cx="26.6" cy="20.0" rx="6.9" ry="6.9" fill="url(#gq)" opacity="0.20"/><ellipse cx="35.6" cy="62.2" rx="8.5" ry="11.5" fill="url(#gq)" opacity="0.36"/><ellipse cx="44.6" cy="41.5" rx="23.1" ry="9.5" fill="url(#gq)" opacity="0.30"/><ellipse cx="35.6" cy="40.5" rx="9.2" ry="8.0" fill="url(#gq)" opacity="0.20"/><ellipse cx="52.8" cy="41.8" rx="9.2" ry="7.4" fill="url(#gq)" opacity="0.15"/><ellipse cx="44.1" cy="48.7" rx="9.2" ry="6.9" fill="url(#gq)" opacity="0.15"/></g></svg></g>
<text x="263.5" y="184.2" class="w in">4/6 <tspan font-style="italic">T</tspan><tspan class="sub" dy="2">SO</tspan></text>
<text x="255.6" y="174.6" text-anchor="end">2</text>
<text x="255.6" y="216.3" text-anchor="end">0</text>
<text x="255.6" y="257.2" text-anchor="end">−2</text>
<text x="260.2" y="265.7" text-anchor="middle">−2</text>
<text x="301.9" y="265.7" text-anchor="middle">0</text>
<text x="343.0" y="265.7" text-anchor="middle">2</text>
<text x="301.5" y="279.5" text-anchor="middle"><tspan font-style="italic">p</tspan><tspan class="sub" font-style="italic" dy="2">x</tspan><tspan dy="-2"> (a.u.)</tspan></text>
<g transform="translate(373.0,171.0)"><svg x="0" y="0" width="83" height="83" viewBox="0 0 83 83" overflow="hidden"><g filter="url(#hot)"><rect x="-10" y="-10" width="103" height="103" fill="rgb(5,5,5)"/><ellipse cx="34.3" cy="75.1" rx="36.9" ry="7.7" fill="url(#gq)" opacity="0.09"/><ellipse cx="13.8" cy="66.1" rx="12.3" ry="12.3" fill="url(#gq)" opacity="0.09"/><ellipse cx="52.8" cy="19.5" rx="20.8" ry="17.7" fill="url(#gq)" opacity="0.53"/><ellipse cx="64.6" cy="28.2" rx="14.6" ry="14.6" fill="url(#gq)" opacity="0.44"/><ellipse cx="38.2" cy="26.4" rx="20.0" ry="11.5" fill="url(#gq)" opacity="0.32"/><ellipse cx="24.1" cy="34.1" rx="15.4" ry="13.8" fill="url(#gq)" opacity="0.32"/><ellipse cx="16.4" cy="46.1" rx="15.4" ry="24.6" fill="url(#gq)" opacity="0.51"/><ellipse cx="25.4" cy="56.4" rx="12.3" ry="10.8" fill="url(#gq)" opacity="0.26"/><ellipse cx="35.6" cy="58.4" rx="13.8" ry="15.4" fill="url(#gq)" opacity="0.49"/><ellipse cx="59.9" cy="55.3" rx="16.1" ry="20.0" fill="url(#gq)" opacity="0.44"/><ellipse cx="69.7" cy="40.5" rx="8.5" ry="10.8" fill="url(#gq)" opacity="0.18"/><ellipse cx="79.2" cy="14.9" rx="4.6" ry="7.7" fill="url(#gq)" opacity="0.05"/><ellipse cx="42.0" cy="41.8" rx="16.9" ry="10.8" fill="url(#gqk)" opacity="0.60"/></g></svg></g>
<text x="376.5" y="184.2" class="w in">5/6 <tspan font-style="italic">T</tspan><tspan class="sub" dy="2">SO</tspan></text>
<text x="368.6" y="174.6" text-anchor="end">2</text>
<text x="368.6" y="216.3" text-anchor="end">0</text>
<text x="368.6" y="257.2" text-anchor="end">−2</text>
<text x="373.2" y="265.7" text-anchor="middle">−2</text>
<text x="414.9" y="265.7" text-anchor="middle">0</text>
<text x="456.0" y="265.7" text-anchor="middle">2</text>
<text x="414.5" y="279.5" text-anchor="middle"><tspan font-style="italic">p</tspan><tspan class="sub" font-style="italic" dy="2">x</tspan><tspan dy="-2"> (a.u.)</tspan></text>
<g transform="translate(486.0,171.0)"><svg x="0" y="0" width="83" height="83" viewBox="0 0 83 83" overflow="hidden"><g filter="url(#hot)"><rect x="-10" y="-10" width="103" height="103" fill="rgb(5,5,5)"/><ellipse cx="38.2" cy="27.7" rx="40.0" ry="13.8" fill="url(#gq)" opacity="0.42"/><ellipse cx="13.8" cy="44.3" rx="13.8" ry="32.3" fill="url(#gq)" opacity="0.46"/><ellipse cx="21.5" cy="25.1" rx="15.4" ry="16.9" fill="url(#gq)" opacity="0.68"/><ellipse cx="53.5" cy="22.5" rx="27.7" ry="20.0" fill="url(#gq)" opacity="1.00"/><ellipse cx="53.5" cy="22.5" rx="16.9" ry="11.5" fill="url(#gq)" opacity="0.80"/><ellipse cx="59.9" cy="12.3" rx="10.8" ry="12.3" fill="url(#gq)" opacity="0.30"/><ellipse cx="68.9" cy="41.8" rx="7.7" ry="12.3" fill="url(#gq)" opacity="0.30"/><ellipse cx="43.3" cy="56.4" rx="26.1" ry="11.5" fill="url(#gq)" opacity="0.52"/><ellipse cx="56.1" cy="62.2" rx="20.8" ry="20.8" fill="url(#gq)" opacity="0.95"/><ellipse cx="56.1" cy="62.2" rx="11.5" ry="11.5" fill="url(#gq)" opacity="0.70"/><ellipse cx="16.4" cy="63.5" rx="12.3" ry="12.3" fill="url(#gq)" opacity="0.20"/><ellipse cx="42.0" cy="75.1" rx="15.4" ry="7.7" fill="url(#gq)" opacity="0.08"/><ellipse cx="43.3" cy="41.8" rx="29.2" ry="11.5" fill="url(#gqk)" opacity="0.95"/></g></svg></g>
<text x="489.5" y="184.2" class="w in"><tspan font-style="italic">T</tspan><tspan class="sub" dy="2">SO</tspan></text>
<text x="481.6" y="174.6" text-anchor="end">2</text>
<text x="481.6" y="216.3" text-anchor="end">0</text>
<text x="481.6" y="257.2" text-anchor="end">−2</text>
<text x="486.2" y="265.7" text-anchor="middle">−2</text>
<text x="527.9" y="265.7" text-anchor="middle">0</text>
<text x="569.0" y="265.7" text-anchor="middle">2</text>
<text x="527.5" y="279.5" text-anchor="middle"><tspan font-style="italic">p</tspan><tspan class="sub" font-style="italic" dy="2">x</tspan><tspan dy="-2"> (a.u.)</tspan></text>
<g transform="translate(599.4,171.0)"><svg x="0" y="0" width="83" height="83" viewBox="0 0 83 83" overflow="hidden"><g filter="url(#hot)"><rect x="-10" y="-10" width="103" height="103" fill="rgb(19,19,19)"/><ellipse cx="20.6" cy="17.5" rx="35.5" ry="30.8" fill="url(#gw)" opacity="0.25"/><ellipse cx="60.9" cy="17.5" rx="35.5" ry="30.8" fill="url(#gw)" opacity="0.25"/><ellipse cx="20.6" cy="65.5" rx="35.5" ry="30.8" fill="url(#gw)" opacity="0.27"/><ellipse cx="60.9" cy="65.5" rx="35.5" ry="30.8" fill="url(#gw)" opacity="0.27"/><ellipse cx="41.1" cy="2.1" rx="15.4" ry="23.1" fill="url(#gk)" opacity="0.35"/><ellipse cx="41.1" cy="80.4" rx="15.4" ry="23.1" fill="url(#gk)" opacity="0.30"/><ellipse cx="41.1" cy="41.4" rx="54.0" ry="23.1" fill="url(#gk)" opacity="0.97"/><ellipse cx="41.1" cy="41.4" rx="34.7" ry="15.4" fill="url(#gk)" opacity="0.70"/><ellipse cx="41.1" cy="41.4" rx="65.5" ry="10.8" fill="url(#gk)" opacity="0.40"/></g></svg></g>
<text x="602.9" y="184.2" class="w in"><tspan font-style="italic">T</tspan><tspan class="sub" dy="2">SO</tspan></text>
<text x="595.0" y="174.6" text-anchor="end">2</text>
<text x="595.0" y="216.3" text-anchor="end">0</text>
<text x="595.0" y="257.2" text-anchor="end">−2</text>
<text x="599.6" y="265.7" text-anchor="middle">−2</text>
<text x="641.3" y="265.7" text-anchor="middle">0</text>
<text x="682.4" y="265.7" text-anchor="middle">2</text>
<text x="640.9" y="279.5" text-anchor="middle"><tspan font-style="italic">p</tspan><tspan class="sub" font-style="italic" dy="2">x</tspan><tspan dy="-2"> (a.u.)</tspan></text>
<text class="w" x="38" y="249.0">Theory</text>
<text class="w" x="603.4" y="249.0">Theory</text>
<text transform="translate(8.7,212.5) rotate(-90)" text-anchor="middle"><tspan font-style="italic">p</tspan><tspan class="sub" font-style="italic" dy="2">y</tspan><tspan dy="-2"> (a.u.)</tspan></text>
</g>
<g id="panelC">
<text class="b" x="0.5" y="307">c</text>
<text x="34" y="311">Real space</text>
<g transform="translate(34.0,316.5)"><svg x="0" y="0" width="83" height="83" viewBox="0 0 83 83" overflow="hidden"><g filter="url(#hot)"><rect x="-10" y="-10" width="103" height="103" fill="rgb(5,5,5)"/><ellipse cx="41.1" cy="41.1" rx="115.6" ry="127.2" fill="url(#gw)" opacity="0.06"/><ellipse cx="41.1" cy="41.1" rx="73.2" ry="80.9" fill="url(#gk)" opacity="0.90"/><ellipse cx="41.1" cy="41.1" rx="40.1" ry="50.9" fill="url(#gw)" opacity="1.00"/><ellipse cx="41.1" cy="41.1" rx="33.9" ry="43.2" fill="url(#gw)" opacity="0.42"/></g></svg></g>
<text x="37.6" y="329.7" class="w in">1/2 <tspan font-style="italic">T</tspan><tspan class="sub" dy="2">SO</tspan></text>
<text x="29.0" y="334.1" text-anchor="end">2</text>
<text x="29.0" y="364.0" text-anchor="end">0</text>
<text x="29.0" y="393.3" text-anchor="end">−2</text>
<text x="48.8" y="411.7" text-anchor="middle">−2</text>
<text x="76.8" y="411.7" text-anchor="middle">0</text>
<text x="104.3" y="411.7" text-anchor="middle">2</text>
<text x="75.5" y="426.0" text-anchor="middle"><tspan font-style="italic">x</tspan> (a.u.)</text>
<g transform="translate(147.0,316.5)"><svg x="0" y="0" width="83" height="83" viewBox="0 0 83 83" overflow="hidden"><g filter="url(#hot)"><rect x="-10" y="-10" width="103" height="103" fill="rgb(22,22,22)"/><ellipse cx="6.7" cy="39.8" rx="13.9" ry="92.5" fill="url(#gw)" opacity="0.05"/><ellipse cx="73.5" cy="39.8" rx="13.9" ry="92.5" fill="url(#gw)" opacity="0.05"/><ellipse cx="41.6" cy="40.6" rx="61.7" ry="104.1" fill="url(#gk)" opacity="0.45"/><ellipse cx="41.6" cy="40.6" rx="30.8" ry="67.8" fill="url(#gw)" opacity="0.96" transform="rotate(-5 41.6 40.6)"/><ellipse cx="41.4" cy="39.3" rx="18.5" ry="38.5" fill="url(#gw)" opacity="0.30" transform="rotate(-5 41.4 39.3)"/></g></svg></g>
<text x="150.6" y="329.7" class="w in">1/2 <tspan font-style="italic">T</tspan><tspan class="sub" dy="2">SO</tspan></text>
<text x="142.0" y="334.1" text-anchor="end">2</text>
<text x="142.0" y="364.0" text-anchor="end">0</text>
<text x="142.0" y="393.3" text-anchor="end">−2</text>
<text x="161.8" y="411.7" text-anchor="middle">−2</text>
<text x="189.8" y="411.7" text-anchor="middle">0</text>
<text x="217.3" y="411.7" text-anchor="middle">2</text>
<text x="188.5" y="426.0" text-anchor="middle"><tspan font-style="italic">x</tspan> (a.u.)</text>
<g transform="translate(260.0,316.5)"><svg x="0" y="0" width="83" height="83" viewBox="0 0 83 83" overflow="hidden"><g filter="url(#hot)"><rect x="-10" y="-10" width="103" height="103" fill="rgb(38,38,38)"/><ellipse cx="25.4" cy="21.8" rx="14.5" ry="14.5" fill="url(#gk)" opacity="0.70"/><ellipse cx="57.6" cy="18.0" rx="13.5" ry="16.4" fill="url(#gk)" opacity="0.70"/><ellipse cx="22.9" cy="61.7" rx="14.5" ry="13.5" fill="url(#gk)" opacity="0.70"/><ellipse cx="57.6" cy="56.5" rx="13.5" ry="16.4" fill="url(#gk)" opacity="0.70"/><ellipse cx="82.0" cy="48.8" rx="11.6" ry="13.5" fill="url(#gk)" opacity="0.60"/><ellipse cx="1.5" cy="24.4" rx="9.6" ry="13.5" fill="url(#gk)" opacity="0.55"/><ellipse cx="3.6" cy="63.0" rx="9.6" ry="11.6" fill="url(#gk)" opacity="0.45"/><ellipse cx="82.0" cy="19.3" rx="9.6" ry="11.6" fill="url(#gk)" opacity="0.45"/><ellipse cx="52.4" cy="77.1" rx="11.6" ry="11.6" fill="url(#gk)" opacity="0.55"/><ellipse cx="26.7" cy="79.7" rx="11.6" ry="9.6" fill="url(#gk)" opacity="0.45"/><ellipse cx="34.4" cy="2.6" rx="9.6" ry="7.7" fill="url(#gk)" opacity="0.35"/><ellipse cx="2.3" cy="43.7" rx="5.8" ry="9.6" fill="url(#gk)" opacity="0.30"/><ellipse cx="70.4" cy="10.3" rx="14.5" ry="14.5" fill="url(#gw)" opacity="0.10"/><ellipse cx="67.8" cy="65.5" rx="14.5" ry="14.5" fill="url(#gw)" opacity="0.12"/><ellipse cx="11.3" cy="65.5" rx="12.5" ry="12.5" fill="url(#gw)" opacity="0.08"/><ellipse cx="11.3" cy="14.1" rx="14.5" ry="14.5" fill="url(#gw)" opacity="0.08"/><ellipse cx="15.2" cy="43.7" rx="18.3" ry="17.3" fill="url(#gw)" opacity="0.17"/><ellipse cx="69.1" cy="34.7" rx="18.3" ry="17.3" fill="url(#gw)" opacity="0.24"/><ellipse cx="43.4" cy="14.1" rx="22.2" ry="21.2" fill="url(#gw)" opacity="0.46"/><ellipse cx="39.6" cy="64.2" rx="23.1" ry="21.2" fill="url(#gw)" opacity="0.42"/><ellipse cx="41.6" cy="39.8" rx="35.7" ry="41.4" fill="url(#gw)" opacity="0.42"/><ellipse cx="41.6" cy="39.8" rx="21.6" ry="22.7" fill="url(#gw)" opacity="0.62"/><ellipse cx="41.6" cy="39.8" rx="10.6" ry="10.6" fill="url(#gw)" opacity="0.50"/></g></svg></g>
<text x="263.6" y="329.7" class="w in">4/6 <tspan font-style="italic">T</tspan><tspan class="sub" dy="2">SO</tspan></text>
<text x="255.0" y="334.1" text-anchor="end">2</text>
<text x="255.0" y="364.0" text-anchor="end">0</text>
<text x="255.0" y="393.3" text-anchor="end">−2</text>
<text x="274.8" y="411.7" text-anchor="middle">−2</text>
<text x="302.8" y="411.7" text-anchor="middle">0</text>
<text x="330.3" y="411.7" text-anchor="middle">2</text>
<text x="301.5" y="426.0" text-anchor="middle"><tspan font-style="italic">x</tspan> (a.u.)</text>
<g transform="translate(373.0,316.5)"><svg x="0" y="0" width="83" height="83" viewBox="0 0 83 83" overflow="hidden"><g filter="url(#hot)"><rect x="-10" y="-10" width="103" height="103" fill="rgb(23,23,23)"/><ellipse cx="41.6" cy="39.8" rx="73.2" ry="73.2" fill="url(#gk)" opacity="0.50"/><ellipse cx="73.0" cy="43.7" rx="12.3" ry="18.5" fill="url(#gw)" opacity="0.12"/><ellipse cx="10.8" cy="37.3" rx="10.8" ry="18.5" fill="url(#gw)" opacity="0.10"/><ellipse cx="44.7" cy="5.9" rx="20.0" ry="10.8" fill="url(#gw)" opacity="0.10"/><ellipse cx="38.3" cy="73.7" rx="20.0" ry="10.8" fill="url(#gw)" opacity="0.10"/><ellipse cx="65.8" cy="16.7" rx="11.6" ry="11.6" fill="url(#gw)" opacity="0.08"/><ellipse cx="17.7" cy="65.5" rx="11.6" ry="11.6" fill="url(#gw)" opacity="0.08"/><ellipse cx="66.6" cy="65.5" rx="11.6" ry="11.6" fill="url(#gw)" opacity="0.06"/><ellipse cx="16.4" cy="14.1" rx="11.6" ry="11.6" fill="url(#gw)" opacity="0.06"/><ellipse cx="41.6" cy="39.8" rx="37.0" ry="37.0" fill="url(#gw)" opacity="0.16"/><ellipse cx="43.4" cy="23.1" rx="21.6" ry="14.6" fill="url(#gw)" opacity="0.42" transform="rotate(-15 43.4 23.1)"/><ellipse cx="38.8" cy="56.3" rx="21.6" ry="14.6" fill="url(#gw)" opacity="0.42" transform="rotate(-15 38.8 56.3)"/><ellipse cx="24.2" cy="39.8" rx="13.9" ry="20.8" fill="url(#gw)" opacity="0.36" transform="rotate(-15 24.2 39.8)"/><ellipse cx="57.6" cy="41.1" rx="13.9" ry="20.8" fill="url(#gw)" opacity="0.36" transform="rotate(-15 57.6 41.1)"/><ellipse cx="41.6" cy="39.8" rx="19.3" ry="22.4" fill="url(#gk)" opacity="0.78" transform="rotate(-30 41.6 39.8)"/><ellipse cx="41.6" cy="39.8" rx="12.3" ry="14.6" fill="url(#gw)" opacity="1.00" transform="rotate(-30 41.6 39.8)"/><ellipse cx="41.6" cy="39.8" rx="6.2" ry="6.9" fill="url(#gw)" opacity="0.50" transform="rotate(-30 41.6 39.8)"/></g></svg></g>
<text x="376.6" y="329.7" class="w in">5/6 <tspan font-style="italic">T</tspan><tspan class="sub" dy="2">SO</tspan></text>
<text x="368.0" y="334.1" text-anchor="end">2</text>
<text x="368.0" y="364.0" text-anchor="end">0</text>
<text x="368.0" y="393.3" text-anchor="end">−2</text>
<text x="387.8" y="411.7" text-anchor="middle">−2</text>
<text x="415.8" y="411.7" text-anchor="middle">0</text>
<text x="443.3" y="411.7" text-anchor="middle">2</text>
<text x="414.5" y="426.0" text-anchor="middle"><tspan font-style="italic">x</tspan> (a.u.)</text>
<g transform="translate(486.0,316.5)"><svg x="0" y="0" width="83" height="83" viewBox="0 0 83 83" overflow="hidden"><g filter="url(#hot)"><rect x="-10" y="-10" width="103" height="103" fill="rgb(10,10,10)"/><ellipse cx="41.6" cy="39.8" rx="57.8" ry="57.8" fill="url(#gw)" opacity="0.12"/><ellipse cx="41.6" cy="39.8" rx="40.1" ry="40.1" fill="url(#gk)" opacity="0.75"/><ellipse cx="67.8" cy="39.8" rx="9.3" ry="23.1" fill="url(#gw)" opacity="0.06"/><ellipse cx="15.2" cy="39.8" rx="9.3" ry="23.1" fill="url(#gw)" opacity="0.06"/><ellipse cx="41.6" cy="9.0" rx="23.1" ry="9.3" fill="url(#gw)" opacity="0.06"/><ellipse cx="41.6" cy="70.7" rx="23.1" ry="9.3" fill="url(#gw)" opacity="0.06"/><ellipse cx="42.1" cy="23.1" rx="20.0" ry="13.9" fill="url(#gw)" opacity="0.55"/><ellipse cx="40.9" cy="55.8" rx="20.0" ry="13.9" fill="url(#gw)" opacity="0.55"/><ellipse cx="26.2" cy="40.6" rx="13.1" ry="16.2" fill="url(#gw)" opacity="0.45"/><ellipse cx="57.0" cy="40.6" rx="13.1" ry="16.2" fill="url(#gw)" opacity="0.45"/><ellipse cx="41.6" cy="39.8" rx="16.2" ry="16.2" fill="url(#gk)" opacity="0.45"/><ellipse cx="41.6" cy="39.8" rx="13.9" ry="13.9" fill="url(#gw)" opacity="1.00"/><ellipse cx="41.6" cy="39.8" rx="6.9" ry="6.9" fill="url(#gw)" opacity="0.50"/></g></svg></g>
<text x="489.6" y="329.7" class="w in"><tspan font-style="italic">T</tspan><tspan class="sub" dy="2">SO</tspan></text>
<text x="481.0" y="334.1" text-anchor="end">2</text>
<text x="481.0" y="364.0" text-anchor="end">0</text>
<text x="481.0" y="393.3" text-anchor="end">−2</text>
<text x="500.8" y="411.7" text-anchor="middle">−2</text>
<text x="528.8" y="411.7" text-anchor="middle">0</text>
<text x="556.3" y="411.7" text-anchor="middle">2</text>
<text x="527.5" y="426.0" text-anchor="middle"><tspan font-style="italic">x</tspan> (a.u.)</text>
<g transform="translate(599.4,316.5)"><svg x="0" y="0" width="83" height="83" viewBox="0 0 83 83" overflow="hidden"><g filter="url(#hot)"><rect x="-10" y="-10" width="103" height="103" fill="rgb(8,8,8)"/><ellipse cx="41.6" cy="40.6" rx="61.7" ry="61.7" fill="url(#gw)" opacity="0.10"/><ellipse cx="41.6" cy="40.6" rx="43.2" ry="43.2" fill="url(#gk)" opacity="0.75"/><ellipse cx="41.6" cy="21.6" rx="22.4" ry="12.3" fill="url(#gw)" opacity="0.50"/><ellipse cx="41.6" cy="59.4" rx="22.4" ry="12.3" fill="url(#gw)" opacity="0.50"/><ellipse cx="22.9" cy="40.6" rx="12.3" ry="20.0" fill="url(#gw)" opacity="0.38"/><ellipse cx="60.6" cy="40.6" rx="12.3" ry="20.0" fill="url(#gw)" opacity="0.38"/><ellipse cx="41.6" cy="40.6" rx="23.1" ry="20.8" fill="url(#gk)" opacity="0.75"/><ellipse cx="41.6" cy="40.6" rx="20.8" ry="18.5" fill="url(#gw)" opacity="0.72"/><ellipse cx="41.6" cy="40.6" rx="9.3" ry="8.5" fill="url(#gw)" opacity="0.12"/></g></svg></g>
<text x="603.0" y="329.7" class="w in"><tspan font-style="italic">T</tspan><tspan class="sub" dy="2">SO</tspan></text>
<text x="594.4" y="334.1" text-anchor="end">2</text>
<text x="594.4" y="364.0" text-anchor="end">0</text>
<text x="594.4" y="393.3" text-anchor="end">−2</text>
<text x="614.2" y="411.7" text-anchor="middle">−2</text>
<text x="642.2" y="411.7" text-anchor="middle">0</text>
<text x="669.7" y="411.7" text-anchor="middle">2</text>
<text x="640.9" y="426.0" text-anchor="middle"><tspan font-style="italic">x</tspan> (a.u.)</text>
<text class="w" x="38" y="394.5">Theory</text>
<text class="w" x="603.4" y="394.5">Theory</text>
<text transform="translate(8.7,358) rotate(-90)" text-anchor="middle"><tspan font-style="italic">y</tspan> (a.u.)</text>
</g>
</svg></body></html>
